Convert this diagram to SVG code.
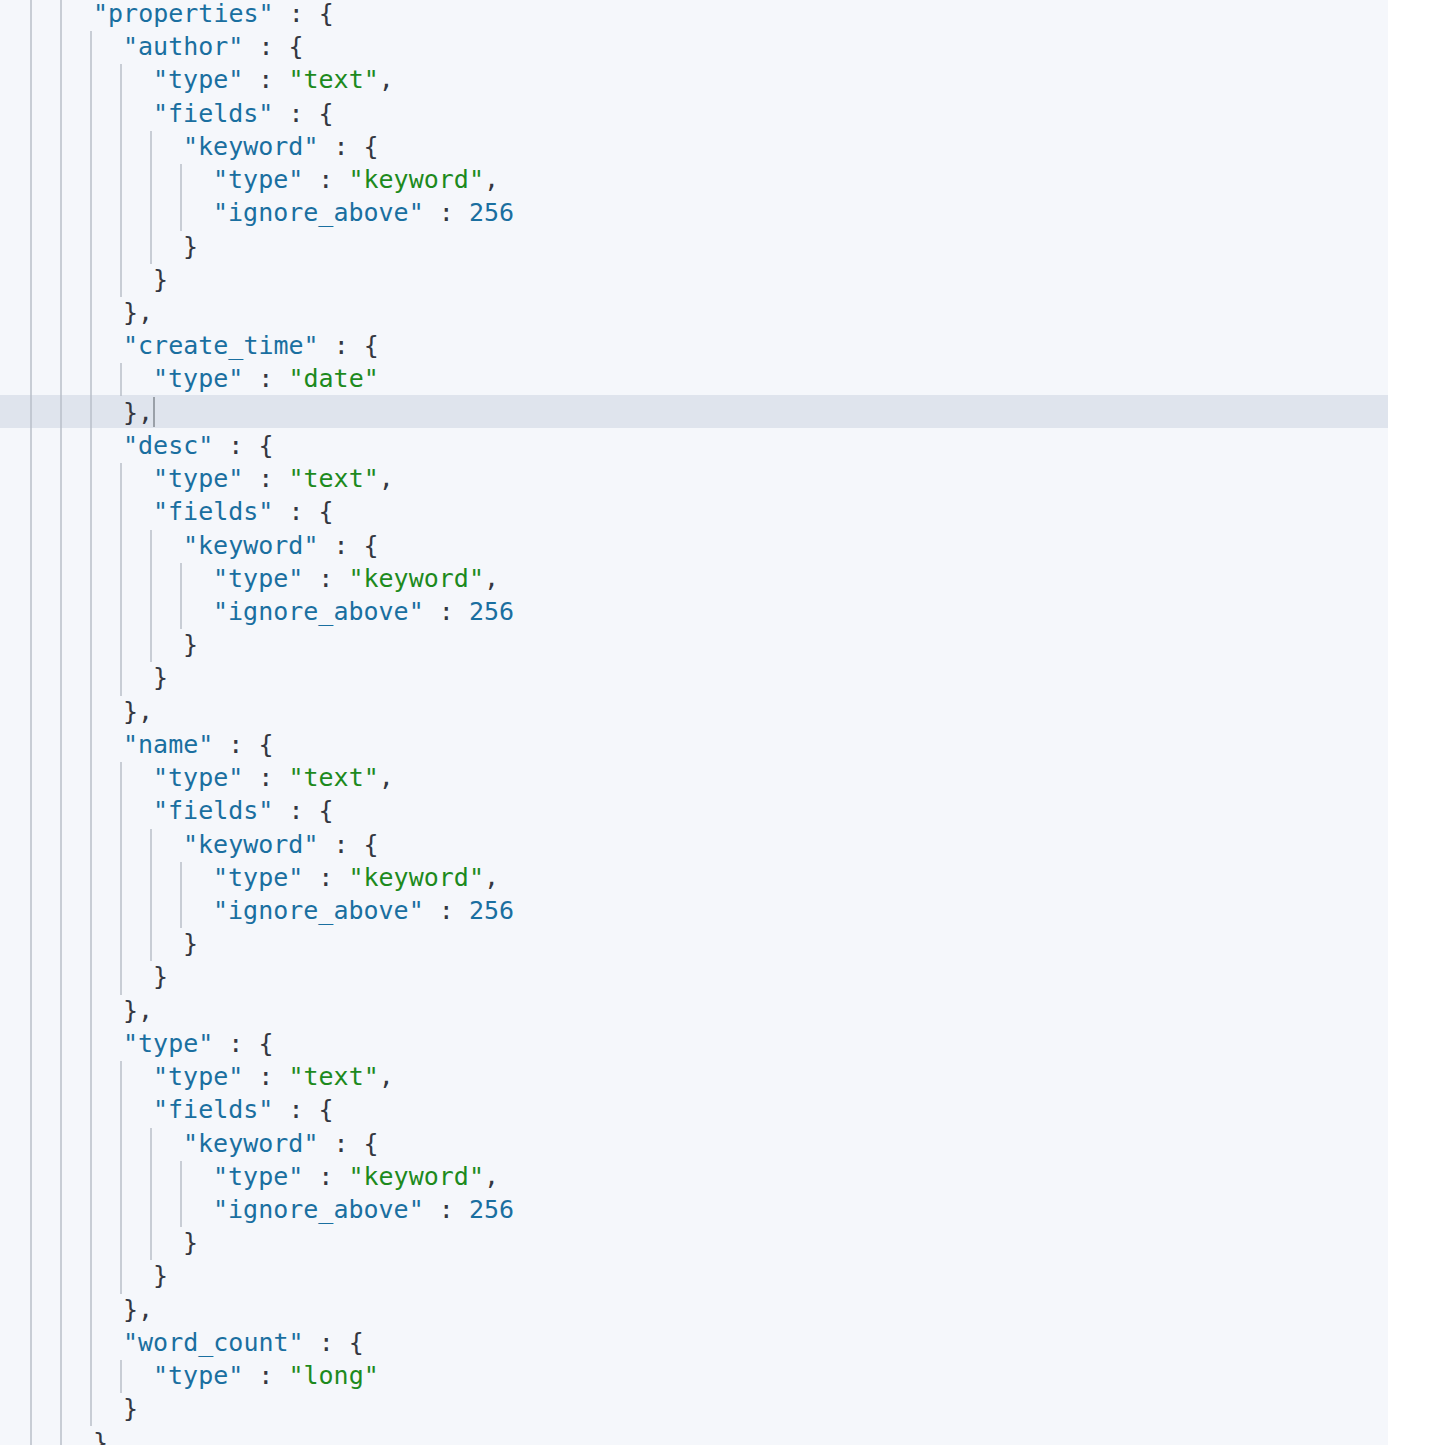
<svg xmlns="http://www.w3.org/2000/svg" width="1440" height="1445" viewBox="0 0 1440 1445">
<style>
text{font-family:"DejaVu Sans Mono","Liberation Mono",monospace;font-size:25px;fill:#343741;white-space:pre}
.k{fill:#1a6fa0}.s{fill:#1d8a1d}.n{fill:#1a6fa0}
.g{stroke:#b9bfc9;stroke-width:1.5}
</style>
<rect width="1440" height="1445" fill="#ffffff"/>
<rect width="1388" height="1445" fill="#f5f7fb"/>
<rect x="0" y="395" width="1388" height="33" fill="#dfe4ed"/>
<line x1="154" y1="397" x2="154" y2="427" stroke="#9aa0a8" stroke-width="2"/>
<g id="guides">
<line class="g" x1="31" y1="0" x2="31" y2="1445"/>
<line class="g" x1="61" y1="0" x2="61" y2="1445"/>
<line class="g" x1="91" y1="31" x2="91" y2="1426"/>
<line class="g" x1="121" y1="64" x2="121" y2="297"/>
<line class="g" x1="121" y1="363" x2="121" y2="396"/>
<line class="g" x1="121" y1="463" x2="121" y2="696"/>
<line class="g" x1="121" y1="762" x2="121" y2="995"/>
<line class="g" x1="121" y1="1061" x2="121" y2="1294"/>
<line class="g" x1="121" y1="1360" x2="121" y2="1393"/>
<line class="g" x1="151" y1="131" x2="151" y2="264"/>
<line class="g" x1="151" y1="530" x2="151" y2="662"/>
<line class="g" x1="151" y1="829" x2="151" y2="961"/>
<line class="g" x1="151" y1="1128" x2="151" y2="1260"/>
<line class="g" x1="181" y1="164" x2="181" y2="231"/>
<line class="g" x1="181" y1="563" x2="181" y2="629"/>
<line class="g" x1="181" y1="862" x2="181" y2="928"/>
<line class="g" x1="181" y1="1161" x2="181" y2="1227"/>
</g>
<g id="code" xml:space="preserve">
<text x="93" y="22"><tspan class="k">"properties"</tspan> : {</text>
<text x="123" y="55.2"><tspan class="k">"author"</tspan> : {</text>
<text x="153" y="88.4"><tspan class="k">"type"</tspan> : <tspan class="s">"text"</tspan>,</text>
<text x="153" y="121.7"><tspan class="k">"fields"</tspan> : {</text>
<text x="183" y="154.9"><tspan class="k">"keyword"</tspan> : {</text>
<text x="213" y="188.1"><tspan class="k">"type"</tspan> : <tspan class="s">"keyword"</tspan>,</text>
<text x="213" y="221.3"><tspan class="k">"ignore_above"</tspan> : <tspan class="n">256</tspan></text>
<text x="183" y="254.5">}</text>
<text x="153" y="287.8">}</text>
<text x="123" y="321">},</text>
<text x="123" y="354.2"><tspan class="k">"create_time"</tspan> : {</text>
<text x="153" y="387.4"><tspan class="k">"type"</tspan> : <tspan class="s">"date"</tspan></text>
<text x="123" y="420.6">},</text>
<text x="123" y="453.9"><tspan class="k">"desc"</tspan> : {</text>
<text x="153" y="487.1"><tspan class="k">"type"</tspan> : <tspan class="s">"text"</tspan>,</text>
<text x="153" y="520.3"><tspan class="k">"fields"</tspan> : {</text>
<text x="183" y="553.5"><tspan class="k">"keyword"</tspan> : {</text>
<text x="213" y="586.7"><tspan class="k">"type"</tspan> : <tspan class="s">"keyword"</tspan>,</text>
<text x="213" y="620"><tspan class="k">"ignore_above"</tspan> : <tspan class="n">256</tspan></text>
<text x="183" y="653.2">}</text>
<text x="153" y="686.4">}</text>
<text x="123" y="719.6">},</text>
<text x="123" y="752.8"><tspan class="k">"name"</tspan> : {</text>
<text x="153" y="786.1"><tspan class="k">"type"</tspan> : <tspan class="s">"text"</tspan>,</text>
<text x="153" y="819.3"><tspan class="k">"fields"</tspan> : {</text>
<text x="183" y="852.5"><tspan class="k">"keyword"</tspan> : {</text>
<text x="213" y="885.7"><tspan class="k">"type"</tspan> : <tspan class="s">"keyword"</tspan>,</text>
<text x="213" y="919"><tspan class="k">"ignore_above"</tspan> : <tspan class="n">256</tspan></text>
<text x="183" y="952.2">}</text>
<text x="153" y="985.4">}</text>
<text x="123" y="1018.6">},</text>
<text x="123" y="1051.8"><tspan class="k">"type"</tspan> : {</text>
<text x="153" y="1085.1"><tspan class="k">"type"</tspan> : <tspan class="s">"text"</tspan>,</text>
<text x="153" y="1118.3"><tspan class="k">"fields"</tspan> : {</text>
<text x="183" y="1151.5"><tspan class="k">"keyword"</tspan> : {</text>
<text x="213" y="1184.7"><tspan class="k">"type"</tspan> : <tspan class="s">"keyword"</tspan>,</text>
<text x="213" y="1217.9"><tspan class="k">"ignore_above"</tspan> : <tspan class="n">256</tspan></text>
<text x="183" y="1251.2">}</text>
<text x="153" y="1284.4">}</text>
<text x="123" y="1317.6">},</text>
<text x="123" y="1350.8"><tspan class="k">"word_count"</tspan> : {</text>
<text x="153" y="1384"><tspan class="k">"type"</tspan> : <tspan class="s">"long"</tspan></text>
<text x="123" y="1417.3">}</text>
<text x="93" y="1450.5">}</text>
</g>
</svg>
